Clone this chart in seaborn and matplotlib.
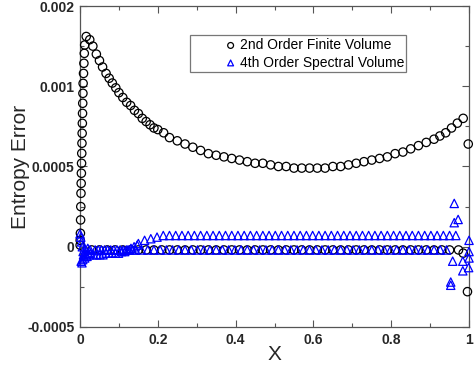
import numpy as np
import pandas as pd
import matplotlib
matplotlib.use("Agg")
import matplotlib.pyplot as plt
import matplotlib.patches as mpatches
import seaborn as sns
from matplotlib.ticker import MultipleLocator

# 2nd order finite volume: main curve (steep rise at the wall, then decay and rise)
fv_x = [0.0003, 0.0005, 0.001, 0.0015, 0.002, 0.0025, 0.003, 0.0035, 0.004, 0.0045,
        0.005, 0.0055, 0.006, 0.0065, 0.007, 0.0075, 0.008, 0.009, 0.010, 0.011,
        0.012, 0.016, 0.025, 0.033, 0.042, 0.050, 0.058, 0.067, 0.075, 0.083,
        0.092, 0.100, 0.110, 0.120, 0.130, 0.140, 0.150, 0.160, 0.170, 0.180,
        0.190, 0.200, 0.215, 0.230, 0.250, 0.270, 0.290, 0.310, 0.330, 0.350,
        0.370, 0.390, 0.410, 0.430, 0.450, 0.470, 0.490, 0.510, 0.530, 0.550,
        0.570, 0.590, 0.610, 0.630, 0.650, 0.670, 0.690, 0.710, 0.730, 0.750,
        0.770, 0.790, 0.810, 0.830, 0.850, 0.870, 0.890, 0.910, 0.925, 0.940,
        0.955, 0.970, 0.985, 0.998, 0.996]
fv_y = [0.00001, 0.00004, 0.000084, 0.000167, 0.00025, 0.000333, 0.000395, 0.000458, 0.00052, 0.000582,
        0.000645, 0.000707, 0.000769, 0.000831, 0.000894, 0.000956, 0.001018, 0.00108, 0.001143, 0.001205,
        0.001257, 0.00131, 0.00129, 0.00125, 0.00120, 0.00116, 0.00112, 0.00108, 0.00105, 0.00102,
        0.00099, 0.00096, 0.00093, 0.00090, 0.00088, 0.00085, 0.00083, 0.00080, 0.00078, 0.00076,
        0.00074, 0.00073, 0.00071, 0.00068, 0.00066, 0.00064, 0.00062, 0.00060, 0.00058, 0.00057,
        0.00056, 0.00055, 0.00054, 0.00053, 0.00052, 0.00052, 0.00051, 0.00050, 0.00050, 0.00049,
        0.00049, 0.00049, 0.00049, 0.00049, 0.00050, 0.00050, 0.00051, 0.00052, 0.00053, 0.00054,
        0.00055, 0.00056, 0.00058, 0.00059, 0.00061, 0.00063, 0.00065, 0.00067, 0.00069, 0.00071,
        0.00074, 0.00077, 0.00080, 0.00064, -0.00028]

# 2nd order finite volume: second set lying on zero
fv0_x = [0.03, 0.05, 0.07, 0.09, 0.11, 0.13, 0.15, 0.17, 0.19, 0.21,
         0.23, 0.25, 0.27, 0.29, 0.31, 0.33, 0.35, 0.37, 0.39, 0.41,
         0.43, 0.45, 0.47, 0.49, 0.51, 0.53, 0.55, 0.57, 0.59, 0.61,
         0.63, 0.65, 0.67, 0.69, 0.71, 0.73, 0.75, 0.77, 0.79, 0.81,
         0.83, 0.85, 0.87, 0.89, 0.91, 0.93, 0.95, 0.973, 0.985]
fv0_y = [-0.00002, -0.00002, -0.00002, -0.00002, -0.00002, -0.00002, -0.00002, -0.00002, -0.00002, -0.00002,
         -0.00002, -0.00002, -0.00002, -0.00002, -0.00002, -0.00002, -0.00002, -0.00002, -0.00002, -0.00002,
         -0.00002, -0.00002, -0.00002, -0.00002, -0.00002, -0.00002, -0.00002, -0.00002, -0.00002, -0.00002,
         -0.00002, -0.00002, -0.00002, -0.00002, -0.00002, -0.00002, -0.00002, -0.00002, -0.00002, -0.00002,
         -0.00002, -0.00002, -0.00002, -0.00002, -0.00002, -0.00002, -0.00002, -0.00002, -0.00004]

# 4th order spectral volume
sv_x = [0.000, 0.002, 0.004, 0.006, 0.008, 0.010, 0.003, 0.005, 0.007, 0.009,
        0.012, 0.015, 0.018, 0.021, 0.024, 0.027, 0.014, 0.020, 0.026,
        0.035, 0.043, 0.051, 0.059, 0.067, 0.075, 0.083, 0.091, 0.099, 0.107,
        0.115, 0.123, 0.131, 0.139, 0.147,
        0.039, 0.047, 0.055, 0.063, 0.071, 0.079, 0.087, 0.095, 0.103, 0.111,
        0.119, 0.127, 0.135, 0.143,
        0.150, 0.166, 0.182, 0.198, 0.214, 0.230, 0.246, 0.262, 0.278, 0.294,
        0.310, 0.326, 0.342, 0.358, 0.374, 0.390, 0.406, 0.422, 0.438, 0.454,
        0.470, 0.486, 0.502, 0.518, 0.534, 0.550, 0.566, 0.582, 0.598, 0.614,
        0.630, 0.646, 0.662, 0.678, 0.694, 0.710, 0.726, 0.742, 0.758, 0.774,
        0.790, 0.806, 0.822, 0.838, 0.854, 0.870, 0.886, 0.902, 0.918, 0.934,
        0.950, 0.966,
        0.158, 0.174, 0.190, 0.206, 0.222, 0.238, 0.254, 0.270, 0.286, 0.302,
        0.318, 0.334, 0.350, 0.366, 0.382, 0.398, 0.414, 0.430, 0.446, 0.462,
        0.478, 0.494, 0.510, 0.526, 0.542, 0.558, 0.574, 0.590, 0.606, 0.622,
        0.638, 0.654, 0.670, 0.686, 0.702, 0.718, 0.734, 0.750, 0.766, 0.782,
        0.798, 0.814, 0.830, 0.846, 0.862, 0.878, 0.894, 0.910, 0.926, 0.942,
        0.962, 0.972, 0.962, 1.000, 1.000, 0.958, 0.984, 1.000, 0.999, 0.984,
        0.953, 0.953]
sv_y = [0.00008, 0.00006, 0.00003, 0.00000, -0.00003, -0.00006, -0.00009, -0.00010, -0.00008, -0.00005,
        -0.00007, -0.00005, -0.00006, -0.00004, -0.00005, -0.00004, -0.00002, -0.00001, -0.00002,
        -0.00005, -0.00005, -0.00005, -0.00005, -0.00004, -0.00004, -0.00004, -0.00004, -0.00004, -0.00003,
        -0.00003, -0.00002, -0.00001, 0.00000, 0.00001,
        -0.00002, -0.00002, -0.00002, -0.00002, -0.00002, -0.00002, -0.00002, -0.00002, -0.00002, -0.00002,
        -0.00002, -0.00002, -0.00002, -0.00002,
        0.00002, 0.00004, 0.00005, 0.00006, 0.00007, 0.00007, 0.00007, 0.00007, 0.00007, 0.00007,
        0.00007, 0.00007, 0.00007, 0.00007, 0.00007, 0.00007, 0.00007, 0.00007, 0.00007, 0.00007,
        0.00007, 0.00007, 0.00007, 0.00007, 0.00007, 0.00007, 0.00007, 0.00007, 0.00007, 0.00007,
        0.00007, 0.00007, 0.00007, 0.00007, 0.00007, 0.00007, 0.00007, 0.00007, 0.00007, 0.00007,
        0.00007, 0.00007, 0.00007, 0.00007, 0.00007, 0.00007, 0.00007, 0.00007, 0.00007, 0.00007,
        0.00007, 0.00007,
        -0.00002, -0.00002, -0.00002, -0.00002, -0.00002, -0.00002, -0.00002, -0.00002, -0.00002, -0.00002,
        -0.00002, -0.00002, -0.00002, -0.00002, -0.00002, -0.00002, -0.00002, -0.00002, -0.00002, -0.00002,
        -0.00002, -0.00002, -0.00002, -0.00002, -0.00002, -0.00002, -0.00002, -0.00002, -0.00002, -0.00002,
        -0.00002, -0.00002, -0.00002, -0.00002, -0.00002, -0.00002, -0.00002, -0.00002, -0.00002, -0.00002,
        -0.00002, -0.00002, -0.00002, -0.00002, -0.00002, -0.00002, -0.00002, -0.00002, -0.00002, -0.00002,
        0.00027, 0.00017, 0.00015, 0.00004, -0.00003, -0.00009, -0.00009, -0.00007, -0.00013, -0.00015,
        -0.00022, -0.00024]

y_ticks = [-0.0005, 0.0, 0.0005, 0.001, 0.0015]
y_tick_labels = ["-0.0005", "0", "0.0005", "0.001", "0.002"]
x_ticks = [0, 0.2, 0.4, 0.6, 0.8, 1.0]
x_tick_labels = ["0", "0.2", "0.4", "0.6", "0.8", "1"]

sns.set_style("ticks")
plt.rcParams["font.family"] = ["Liberation Sans", "DejaVu Sans"]

fig = plt.figure(figsize=(4.74, 3.66), dpi=100)
ax = fig.add_axes([0.1688, 0.1066, 0.8207, 0.877])

fv = pd.DataFrame({"x": fv_x + fv0_x, "y": fv_y + fv0_y})
sv = pd.DataFrame({"x": sv_x, "y": sv_y})

sns.scatterplot(data=fv, x="x", y="y", ax=ax, marker="o", s=36,
                facecolors="none", edgecolor="black", linewidth=0.9,
                label="2nd Order Finite Volume", clip_on=False, zorder=3)
sns.scatterplot(data=sv, x="x", y="y", ax=ax, marker="^", s=36,
                facecolors="none", edgecolor="#0000ff", linewidth=0.9,
                label="4th Order Spectral Volume", clip_on=False, zorder=4)

ax.set_xlim(0, 1)
ax.set_ylim(-0.0005, 0.0015)
ax.set_xticks(x_ticks)
ax.set_xticklabels(x_tick_labels, fontsize=10, fontweight="bold")
ax.set_yticks(y_ticks)
ax.set_yticklabels(y_tick_labels, fontsize=10, fontweight="bold")
ax.xaxis.set_minor_locator(MultipleLocator(0.1))
ax.yaxis.set_minor_locator(MultipleLocator(0.00025))
ax.tick_params(which="both", direction="in", top=True, right=True, color="#555555", width=0.8)
ax.tick_params(which="major", length=5, pad=4)
ax.tick_params(which="minor", length=3)
for sp in ax.spines.values():
    sp.set_color("#555555")
    sp.set_linewidth(0.9)

ax.set_xlabel("X", fontsize=15, labelpad=-1)
ax.set_ylabel("Entropy Error", fontsize=15, labelpad=-2)

# legend box drawn separately, entries placed inside without frame
ax.add_patch(mpatches.Rectangle((0.282, 0.794), 0.556, 0.116, transform=ax.transAxes,
                                fill=False, edgecolor="#777777", linewidth=0.9,
                                zorder=5))
leg = ax.legend(loc="center left", bbox_to_anchor=(0.355, 0.851), fontsize=10,
                frameon=False, handletextpad=0.3, borderpad=0, labelspacing=0.25,
                markerscale=0.7, handlelength=0.8)
for t in leg.get_texts():
    t.set_color("black")

fig.savefig("out.png", dpi=100)
